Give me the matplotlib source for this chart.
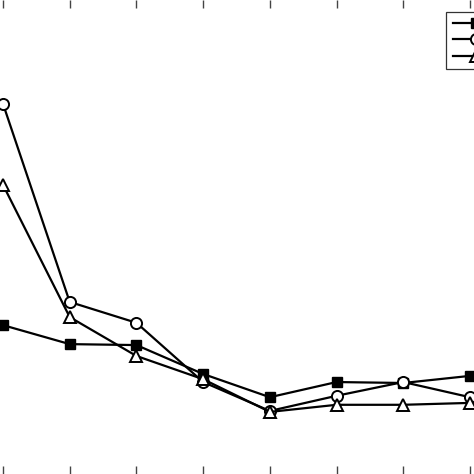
import matplotlib
matplotlib.use("Agg")
import matplotlib.pyplot as plt

# x positions (one per tick)
x = [1, 2, 3, 4, 5, 6, 7, 8]

# series values (arbitrary units, no y labels visible)
series_a = [3.14, 2.74, 2.72, 2.11, 1.62, 1.94, 1.92, 2.07]   # filled square
series_b = [7.81, 3.63, 3.19, 1.94, 1.33, 1.65, 1.94, 1.62]   # open circle
series_c = [6.10, 3.31, 2.49, 2.00, 1.31, 1.46, 1.46, 1.50]   # open triangle

fig = plt.figure(figsize=(4.74, 4.74), dpi=100)
ax = fig.add_axes([0, 0, 1, 1])

la, = ax.plot(x, series_a, color="black", lw=1.6, marker="s", ms=7,
              mfc="black", mec="black")
lb, = ax.plot(x, series_b, color="black", lw=1.6, marker="o", ms=8,
              mfc="white", mec="black", mew=1.4)
lc, = ax.plot(x, series_c, color="black", lw=1.6, marker="^", ms=8,
              mfc="white", mec="black", mew=1.4)

ax.set_xlim(0.955, 8.06)
ax.set_ylim(0, 10)

# spines sit outside the cropped picture, only the inward ticks show
for s in ax.spines.values():
    s.set_visible(False)
ax.set_xticks(x)
ax.tick_params(axis="x", which="both", direction="in", top=True, bottom=True,
               length=6, width=1, color="#444444", labelbottom=False)
ax.set_yticks([])

# legend labels fall outside the crop, only the handles show
leg = ax.legend([la, lb, lc], ["", "", ""], loc="upper left",
                bbox_to_anchor=(446 / 474, 1 - 12 / 474),
                bbox_transform=fig.transFigure, fancybox=False, frameon=True,
                handlelength=4.2, borderaxespad=0, labelspacing=0.6,
                borderpad=0.6, fontsize=8)
leg.get_frame().set_edgecolor("black")
leg.get_frame().set_linewidth(0.9)

fig.savefig("out.png", dpi=100)
